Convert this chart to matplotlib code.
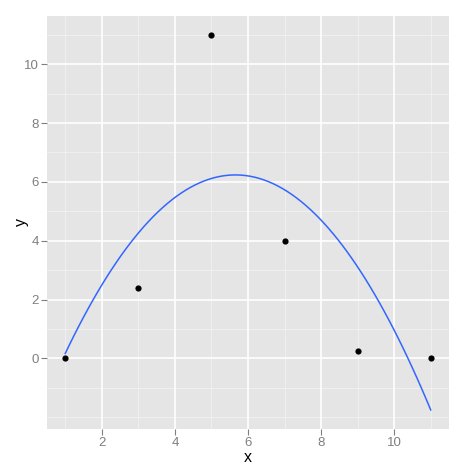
import numpy as np
import matplotlib
matplotlib.use("Agg")
import matplotlib.pyplot as plt

# data points
x_pts = [1, 3, 5, 7, 9, 11]
y_pts = [0, 2.4, 11, 4, 0.25, 0]

x_ticks = [2, 4, 6, 8, 10]
y_ticks = [0, 2, 4, 6, 8, 10]
x_minor = [1, 3, 5, 7, 9, 11]
y_minor = [-2, -1, 1, 3, 5, 7, 9, 11]

plt.rcParams['font.family'] = ['Liberation Sans', 'DejaVu Sans']

# smoother: quadratic lm fit like stat_smooth(formula = y ~ poly(x, 2))
coef = np.polyfit(x_pts, y_pts, 2)
x_fit = np.linspace(min(x_pts), max(x_pts), 80)
y_fit = np.polyval(coef, x_fit)

fig = plt.figure(figsize=(4.74, 4.72), dpi=100)
ax = fig.add_axes([47 / 474, 1 - 428.7 / 472, (449 - 47) / 474, (428.7 - 16) / 472])
ax.set_facecolor("#E5E5E5")

for v in x_minor:
    ax.axvline(v, color="#F2F2F2", lw=0.6, zorder=0)
for v in y_minor:
    ax.axhline(v, color="#F2F2F2", lw=0.6, zorder=0)
for v in x_ticks:
    ax.axvline(v, color="white", lw=1.2, zorder=0.5)
for v in y_ticks:
    ax.axhline(v, color="white", lw=1.2, zorder=0.5)

ax.plot(x_fit, y_fit, color="#3366FF", lw=1.1, zorder=2)
ax.scatter(x_pts, y_pts, s=20, color="black", zorder=3, linewidths=0)

lo = min(min(y_fit), min(y_pts))
hi = max(max(y_fit), max(y_pts))
pad = (hi - lo) * 0.05
ax.set_ylim(lo - pad, hi + pad)
ax.set_xlim(0.5, 11.5)

ax.set_xticks(x_ticks)
ax.set_yticks(y_ticks)
ax.tick_params(colors="#7F7F7F", labelcolor="#7F7F7F", labelsize=9.5, length=4, width=0.8, pad=2)
for s in ax.spines.values():
    s.set_visible(False)

ax.set_xlabel("x", fontsize=11.5, labelpad=0.5)
ax.set_ylabel("y", fontsize=11.5, labelpad=-3.5)

fig.savefig("out.png", dpi=100, facecolor="white")
